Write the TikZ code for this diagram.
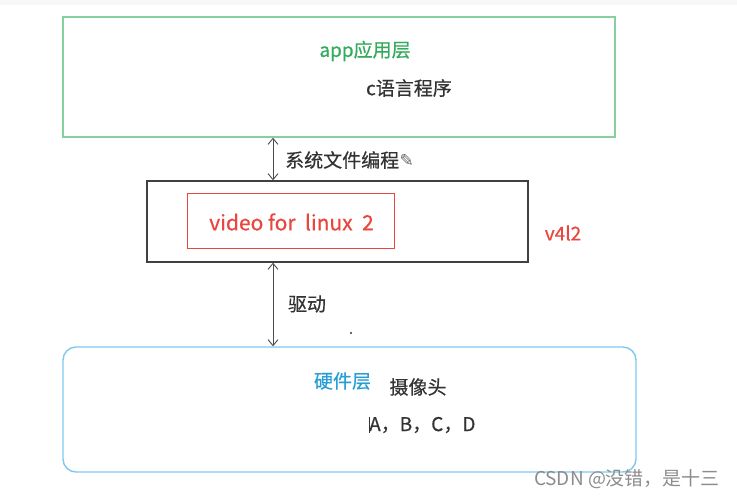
\documentclass[tikz,border=0pt]{standalone}
\usepackage{fontspec}
\setmainfont{Noto Sans CJK SC}[BoldFont=Noto Sans CJK SC,BoldFeatures={FakeBold=0.5}]
\newfontfamily\pencilfont{DejaVu Sans}
\usetikzlibrary{arrows.meta}
\definecolor{appgreen}{RGB}{134,208,160}
\definecolor{apptext}{RGB}{52,170,92}
\definecolor{vred}{RGB}{232,70,62}
\definecolor{hwblue}{RGB}{126,200,239}
\definecolor{hwtext}{RGB}{40,158,214}
\definecolor{ink}{RGB}{51,51,51}
\tikzstyle{arr}=[{Straight Barb[length=6pt,width=10pt]}-{Straight Barb[length=6pt,width=10pt]},draw=black!70,line width=0.9pt]
\tikzstyle{layer}=[draw,line width=1.4pt,inner sep=0pt]
\tikzstyle{txt}=[inner sep=0pt,text=ink]

\begin{document}
\begin{tikzpicture}[x=1pt,y=-1pt,font=\fontsize{19}{21}\selectfont\bfseries]
  \useasboundingbox (0,0) rectangle (737,499);
  \fill[black!3] (0,0) rectangle (737,5);

  % the three layers
  \node[layer,draw=appgreen,minimum width=552pt,minimum height=120pt] (app) at (339,77) {};
  \node[layer,draw=black!75,minimum width=381pt,minimum height=81pt] (v4l) at (337.5,221.5) {};
  \node[layer,draw=vred,line width=1pt,minimum width=207pt,minimum height=55pt] (vfl) at (290.5,220.5) {};
  \node[layer,draw=hwblue,rounded corners=13pt,minimum width=573pt,minimum height=125pt] (hw) at (349.5,409.5) {};

  % texts
  \node[txt,text=apptext] (applbl) at (365,51) {app应用层};
  \node[txt] (clang) at (409,88) {c语言程序};
  \node[txt,anchor=west] (sysfile) at (285,160) {系统文件编程};
  \node[txt,anchor=west,font=\pencilfont\fontsize{17}{17}\selectfont,text=black!60] (pencil) at (sysfile.east) {✎};
  \node[txt,text=vred,font=\fontsize{21}{22}\selectfont\bfseries] (vfllbl) at (291.5,222) {video for\ \ linux\ \ 2};
  \node[txt,text=vred] (v4l2) at (563,233) {v4l2};
  \node[txt] (drv) at (307,304) {驱动};
  \node[txt,text=hwtext] (hwlbl) at (342.5,381) {硬件层};
  \node[txt] (cam) at (418,387) {摄像头};
  \node[txt,anchor=west] (abcd) at (369,425) {A，B，C，D};
  \node[txt,text=black!45,font=\fontsize{19}{20}\selectfont] (mark) at (627,479) {CSDN @没错，是十三};

  % cursor and dot
  \draw[black!80,line width=0.8pt] (abcd.north west) -- (abcd.south west);
  \fill[ink] (351,333) circle (1.2pt);

  % connectors
  \coordinate (ax) at (273,0);
  \draw[arr] (app.south -| ax) -- (v4l.north -| ax);
  \draw[arr] (v4l.south -| ax) -- (hw.north -| ax);
\end{tikzpicture}
\end{document}
